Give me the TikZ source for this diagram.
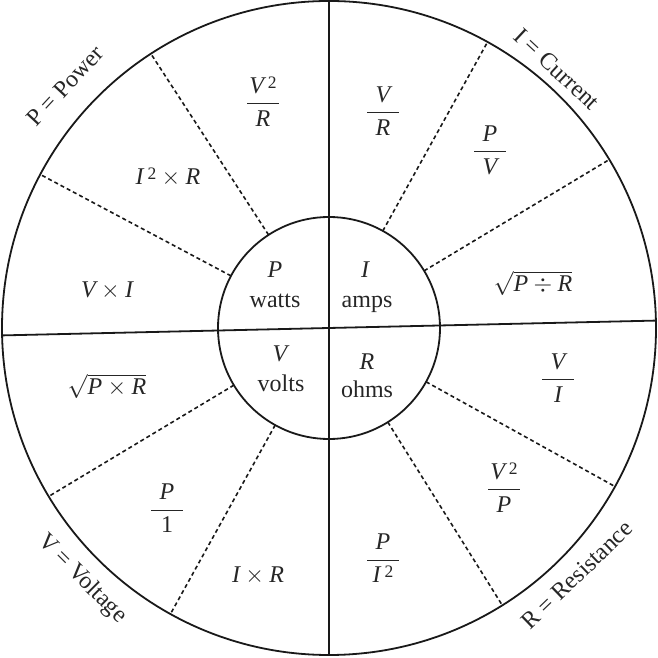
\RequirePackage{fix-cm}
\documentclass[tikz,border=0pt]{standalone}
\usepackage{amsmath}
\usepackage{fontspec}
\setmainfont{Liberation Serif}
\newcommand{\mV}{\mathit{V}}
\newcommand{\mI}{\mathit{I}}
\newcommand{\mR}{\mathit{R}}
\newcommand{\mP}{\mathit{P}}
\newcommand{\sqd}[1]{#1\,\raisebox{5pt}{\fontsize{17.5}{20}\selectfont 2}}
\newcommand{\myfrac}[2]{\dfrac{\makebox[32pt]{$#1$}}{#2}}
\begin{document}
\begin{tikzpicture}[x=1pt,y=1pt]
\tikzset{
  ring/.style={circle, draw=black!90, line width=1.8pt, inner sep=0pt, outer sep=0pt},
  solidline/.style={draw=black!90, line width=1.8pt},
  dashline/.style={draw=black!90, line width=1.6pt, dash pattern=on 4pt off 3pt},
  lbl/.style={font=\fontsize{24}{28}\selectfont, inner sep=0pt, text=black!85},
  outerlbl/.style={font=\fontsize{24}{28}\selectfont, inner sep=0pt, text=black!85},
}
\useasboundingbox (0,0) rectangle (657,658);
\coordinate (C) at (329,330);
\node[ring, minimum size=654pt] (outer) at (C) {};
\coordinate (hL) at ([shift={(181.3:327)}]C);
\coordinate (hR) at ([shift={(1.3:327)}]C);
\draw[solidline] (outer.90) -- (outer.270);
\draw[solidline] (hL) -- (hR);
\foreach \a in {31,61,123,152,211,241,302,331}{
  \draw[dashline] (C) ++(\a:111) -- ++(\a:216);
}
\node[ring, minimum size=222pt, fill=none] (inner) at (C) {};

% centre quadrants
\node[lbl, anchor=base] (qP) at (275,380) {$\mP$};
\node[lbl, anchor=base] (qPw) at (275,350) {watts};
\node[lbl, anchor=base] (qI) at (365,380) {$\mI$};
\node[lbl, anchor=base] (qIa) at (367,350) {amps};
\node[lbl, anchor=base] (qV) at (280,296) {$\mV$};
\node[lbl, anchor=base] (qVv) at (281,266) {volts};
\node[lbl, anchor=base] (qR) at (367,288) {$\mR$};
\node[lbl, anchor=base] (qRo) at (367,260) {ohms};

% power segment
\node[lbl, anchor=base] (p1) at (263,548) {$\myfrac{\sqd{\mV}}{\mR}$};
\node[lbl, anchor=base] (p2) at (168,473) {$\sqd{\mI}\times\mR$};
\node[lbl, anchor=base] (p3) at (107,360) {$\mV\times\mI$};

% current segment
\node[lbl, anchor=base] (i1) at (383,539) {$\myfrac{\mV}{\mR}$};
\node[lbl, anchor=base] (i2) at (490,500) {$\myfrac{\mP}{\mV}$};
\node[lbl, anchor=base] (i3) at (533,366) {$\sqrt{\mP\div\mR}$};

% voltage segment
\node[lbl, anchor=base] (v1) at (107,263) {$\sqrt{\mP\times\mR}$};
\node[lbl, anchor=base] (v2) at (167,142) {$\myfrac{\mP}{\mathrm{1}}$};
\node[lbl, anchor=base] (v3) at (258,75) {$\mI\times\mR$};

% resistance segment
\node[lbl, anchor=base] (r1) at (558,272) {$\myfrac{\mV}{\mI}$};
\node[lbl, anchor=base] (r2) at (504,162) {$\myfrac{\sqd{\mV}}{\mP}$};
\node[lbl, anchor=base] (r3) at (383,92) {$\myfrac{\mP}{\sqd{\mI}}$};

% outer labels
\node[outerlbl, rotate=47] (tP) at (65,572) {P = Power};
\node[outerlbl, rotate=-43] (tI) at (557,589) {I = Current};
\node[outerlbl, rotate=-45] (tV) at (82,79) {V = Voltage};
\node[outerlbl, rotate=44] (tR) at (577,83) {R = Resistance};
\end{tikzpicture}
\end{document}
